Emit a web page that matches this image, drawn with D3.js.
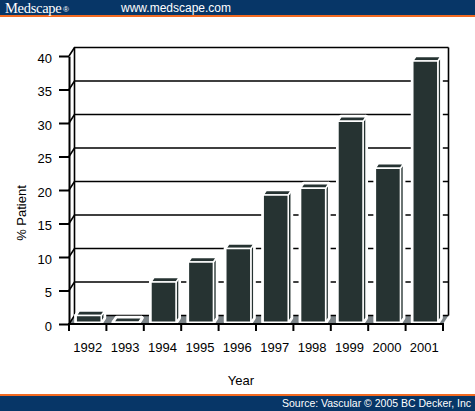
<html lang="en">
<head>
  <meta charset="UTF-8">
  <title>% Patient by Year</title>
  <style>
    body { margin: 0; background: #fff; }
    text { font-family: "Liberation Sans", Arial, sans-serif; }
  </style>
</head>
<body>
  <div id="chart"></div>
  <script src="https://d3js.org/d3.v7.min.js"></script>
  <script>
    // chart data
    const years = ["1992", "1993", "1994", "1995", "1996", "1997", "1998", "1999", "2000", "2001"];
    const patientPct = [1, 0, 6, 9, 11, 19, 20, 30, 23, 39];
    const yTicks = [0, 5, 10, 15, 20, 25, 30, 35, 40];

    const w = 475, h = 411;
    const plotLeft = 69, plotRight = 443, plotBottom = 324, plotTop = 56;
    // depth of the 3d box and of the bars
    const DX = 5.5, DY = -8.5;
    const FDX = 1, FDY = -1.7;
    const BDX = 3, BDY = -4.5;

    const navy = "#073667", orange = "#f26a21", barCol = "#263332", floorCol = "#7b8387";

    const svg = d3.select("#chart").append("svg")
      .attr("width", w)
      .attr("height", h);

    // header and footer bands
    svg.append("rect").attr("x", 0).attr("y", 0).attr("width", w).attr("height", 15).attr("fill", navy);
    svg.append("rect").attr("x", 0).attr("y", 15).attr("width", w).attr("height", 2).attr("fill", orange);
    svg.append("rect").attr("x", 0).attr("y", 394).attr("width", w).attr("height", 2).attr("fill", orange);
    svg.append("rect").attr("x", 0).attr("y", 396).attr("width", w).attr("height", 15).attr("fill", navy);

    svg.append("text")
      .attr("x", 5).attr("y", 12.8)
      .style("font-family", "'Liberation Serif', 'Times New Roman', serif")
      .style("font-size", "14.5px")
      .style("letter-spacing", "-0.3px")
      .attr("fill", "#fff")
      .text("Medscape");
    svg.append("text")
      .attr("x", 63).attr("y", 11.5)
      .style("font-size", "8px")
      .attr("fill", "#fff")
      .text("®");
    svg.append("text")
      .attr("x", 121).attr("y", 11.5)
      .style("font-size", "12px")
      .attr("fill", "#fff")
      .text("www.medscape.com");
    svg.append("text")
      .attr("x", 471).attr("y", 407)
      .attr("text-anchor", "end")
      .style("font-size", "10.5px")
      .attr("fill", "#fff")
      .text("Source: Vascular © 2005 BC Decker, Inc");

    // scales
    const xScale = d3.scaleBand()
      .domain(years)
      .range([plotLeft, plotRight])
      .paddingInner(0.33)
      .paddingOuter(0.165);

    const yScale = d3.scaleLinear()
      .domain([0, 40])
      .range([plotBottom, plotTop]);

    const step = xScale.step();
    const bw = xScale.bandwidth();

    // floor
    svg.append("polygon")
      .attr("points", [[plotLeft, plotBottom], [plotRight, plotBottom], [plotRight + DX, plotBottom + DY], [plotLeft + DX, plotBottom + DY]].join(" "))
      .attr("fill", floorCol);

    // gridlines on side and back wall
    const grid = svg.append("g").attr("stroke", "#000").attr("stroke-width", 1.6).attr("fill", "none");
    yTicks.forEach(v => {
      const yy = yScale(v);
      grid.append("path")
        .attr("d", "M" + plotLeft + "," + yy + "L" + (plotLeft + DX) + "," + (yy + DY) + "L" + (plotRight + DX) + "," + (yy + DY));
    });
    grid.append("path")
      .attr("d", "M" + (plotLeft + DX) + "," + (yScale(40) + DY) + "V" + (plotBottom + DY));
    grid.append("path")
      .attr("d", "M" + (plotRight + DX) + "," + (yScale(40) + DY) + "V" + (plotBottom + DY));

    // bars
    const data = years.map((yr, i) => ({ year: yr, value: patientPct[i] }));
    const bars = svg.append("g").selectAll("g")
      .data(data)
      .enter()
      .append("g");

    const frontPts = d => {
      const x0 = xScale(d.year) + FDX, yt = yScale(d.value) + FDY, yb = plotBottom + FDY;
      return [[x0, yt], [x0 + bw, yt], [x0 + bw, yb], [x0, yb]];
    };
    const topPts = d => {
      const x0 = xScale(d.year) + FDX, yt = yScale(d.value) + FDY;
      return [[x0, yt], [x0 + bw, yt], [x0 + bw + BDX, yt + BDY], [x0 + BDX, yt + BDY]];
    };
    const sidePts = d => {
      const x0 = xScale(d.year) + FDX + bw, yt = yScale(d.value) + FDY, yb = plotBottom + FDY;
      return [[x0, yt], [x0 + BDX, yt + BDY], [x0 + BDX, yb + BDY], [x0, yb]];
    };

    // white halo behind each bar
    [frontPts, topPts, sidePts].forEach(fn => {
      bars.append("polygon")
        .attr("points", d => fn(d).join(" "))
        .attr("fill", "#fff")
        .attr("stroke", "#fff")
        .attr("stroke-width", 4)
        .attr("stroke-linejoin", "round");
    });
    [sidePts, topPts, frontPts].forEach(fn => {
      bars.append("polygon")
        .attr("points", d => fn(d).join(" "))
        .attr("fill", barCol)
        .attr("stroke", "#fff")
        .attr("stroke-width", 1.5)
        .attr("stroke-linejoin", "round");
    });

    // y axis
    const yAxis = d3.axisLeft(yScale)
      .tickValues(yTicks)
      .tickSize(10)
      .tickSizeOuter(0)
      .tickPadding(7);
    const gy = svg.append("g")
      .attr("id", "y-axis")
      .attr("transform", "translate(" + plotLeft + ",0)")
      .call(yAxis);
    gy.selectAll("path, line").attr("stroke", "#000").attr("stroke-width", 2);
    gy.selectAll("text").attr("dy", "0.48em").style("font-size", "13px").attr("fill", "#000");

    // x axis: labels centred on the bands, ticks on the band edges
    const xAxis = d3.axisBottom(xScale)
      .tickSize(0)
      .tickSizeOuter(0)
      .tickPadding(18.5);
    const gx = svg.append("g")
      .attr("id", "x-axis")
      .attr("transform", "translate(0," + plotBottom + ")")
      .call(xAxis);
    gx.select(".domain").remove();
    gx.selectAll("text").style("font-size", "13px").attr("fill", "#000");

    const edges = years.map((yr, i) => plotLeft + i * step).concat([plotRight]);
    gx.selectAll(".edge")
      .data(edges)
      .enter()
      .append("line")
      .attr("class", "edge")
      .attr("x1", d => d).attr("x2", d => d)
      .attr("y1", 0).attr("y2", 7)
      .attr("stroke", "#000").attr("stroke-width", 2);
    gx.append("line")
      .attr("x1", plotLeft - 1).attr("x2", plotRight + 1)
      .attr("y1", 0).attr("y2", 0)
      .attr("stroke", "#000").attr("stroke-width", 2);

    // axis titles
    svg.append("text")
      .attr("x", 241).attr("y", 385)
      .attr("text-anchor", "middle")
      .style("font-size", "13px")
      .text("Year");

    svg.append("text")
      .attr("transform", "translate(25.5,213) rotate(-90)")
      .attr("text-anchor", "middle")
      .style("font-size", "13px")
      .text("% Patient");
  </script>
</body>
</html>
